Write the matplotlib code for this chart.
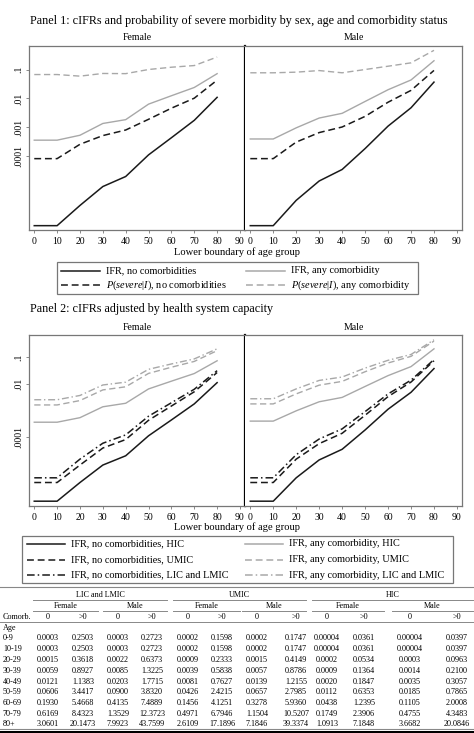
import numpy as np
import matplotlib
matplotlib.use('Agg')
import matplotlib.pyplot as plt

plt.rcParams['font.family'] = ['Liberation Serif', 'DejaVu Serif']
plt.rcParams['mathtext.fontset'] = 'custom'
plt.rcParams['mathtext.it'] = 'Liberation Serif:italic'
plt.rcParams['mathtext.rm'] = 'Liberation Serif'

W, H = 474, 733

ages = [0, 10, 20, 30, 40, 50, 60, 70, 80]
age_labels = ['0-9', '10-19', '20-29', '30-39', '40-49', '50-59', '60-69', '70-79', '80+']

# IFR table (percent)
lic_f0 = [0.0003, 0.0003, 0.0015, 0.0059, 0.0121, 0.0606, 0.1930, 0.6169, 3.0601]
lic_f1 = [0.2503, 0.2503, 0.3618, 0.8927, 1.1383, 3.4417, 5.4668, 8.4323, 20.1473]
lic_m0 = [0.0003, 0.0003, 0.0022, 0.0085, 0.0203, 0.0900, 0.4135, 1.3529, 7.9923]
lic_m1 = [0.2723, 0.2723, 0.6373, 1.3225, 1.7715, 3.8320, 7.4889, 12.3723, 43.7599]
umic_f0 = [0.0002, 0.0002, 0.0009, 0.0039, 0.0081, 0.0426, 0.1456, 0.4971, 2.6109]
umic_f1 = [0.1598, 0.1598, 0.2333, 0.5838, 0.7627, 2.4215, 4.1251, 6.7946, 17.1896]
umic_m0 = [0.0002, 0.0002, 0.0015, 0.0057, 0.0139, 0.0657, 0.3278, 1.1504, 7.1846]
umic_m1 = [0.1747, 0.1747, 0.4149, 0.8786, 1.2155, 2.7985, 5.9360, 10.5207, 39.3374]
hic_f0 = [0.00004, 0.00004, 0.0002, 0.0009, 0.0020, 0.0112, 0.0438, 0.1749, 1.0913]
hic_f1 = [0.0361, 0.0361, 0.0534, 0.1364, 0.1847, 0.6353, 1.2395, 2.3906, 7.1848]
hic_m0 = [0.00004, 0.00004, 0.0003, 0.0014, 0.0035, 0.0185, 0.1105, 0.4755, 3.6682]
hic_m1 = [0.0397, 0.0397, 0.0963, 0.2100, 0.3057, 0.7865, 2.0008, 4.3483, 20.0846]

sev_f0 = [8.3e-5, 8.3e-5, 2.6e-4, 5.2e-4, 8.1e-4, 1.9e-3, 4.6e-3, 1.02e-2, 4.3e-2]
sev_f1 = [0.067, 0.067, 0.059, 0.073, 0.072, 0.10, 0.12, 0.137, 0.27]
sev_m0 = [8.3e-5, 8.3e-5, 3.1e-4, 6.6e-4, 1.03e-3, 2.4e-3, 7.4e-3, 1.9e-2, 0.093]
sev_m1 = [0.077, 0.077, 0.081, 0.092, 0.077, 0.10, 0.13, 0.17, 0.46]

BLACK = '#1a1a1a'
GREY = '#a8a8a8'
FRAME = '#777777'
DASH = (4.5, 2.5)
DASHDOT = (5, 2, 1, 2)

fig = plt.figure(figsize=(W / 100, H / 100), dpi=100)
bg = fig.add_axes([0, 0, 1, 1])
bg.set_xlim(0, W)
bg.set_ylim(H, 0)
bg.axis('off')


def rect(l, t, r, b):
    return [l / W, 1 - b / H, (r - l) / W, (b - t) / H]


def pct(v):
    return np.array(v) / 100.0


def style_axes(ax, side, yticks, ylabels, ylim):
    ax.set_yscale('log')
    ax.set_xlim(-2.3, 92.2)
    ax.set_ylim(*ylim)
    ax.set_xticks(range(0, 91, 10))
    ax.minorticks_off()
    ax.tick_params(axis='x', labelsize=7, length=2.5, width=0.6, color=FRAME, pad=2.5)
    ax.tick_params(axis='y', labelsize=7, length=2.5, width=0.6, color=FRAME, pad=1.5)
    for s in ax.spines.values():
        s.set_color(FRAME)
        s.set_linewidth(0.9)
    if side == 'left':
        ax.set_yticks(yticks)
        ax.set_yticklabels(ylabels, rotation=90, va='center')
        ax.spines['right'].set_color('black')
        ax.spines['right'].set_linewidth(1.6)
    else:
        ax.set_yticks([])
        ax.spines['left'].set_visible(False)


def ylims(series, pad):
    lo = min(np.log10(np.min(s)) for s in series)
    hi = max(np.log10(np.max(s)) for s in series)
    return 10 ** (lo - pad), 10 ** (hi + pad)


# ---------------- Panel 1 ----------------
p1_all = [pct(hic_f0), pct(hic_f1), pct(hic_m0), pct(hic_m1), sev_f0, sev_f1, sev_m0, sev_m1]
lim1 = ylims(p1_all, 0.15)
p1 = {'Female': (pct(hic_f0), pct(hic_f1), sev_f0, sev_f1),
      'Male': (pct(hic_m0), pct(hic_m1), sev_m0, sev_m1)}
boxes1 = {'Female': (29, 46, 245, 230), 'Male': (245, 46, 462, 230)}
for sex, (i0, i1, s0, s1) in p1.items():
    ax = fig.add_axes(rect(*boxes1[sex]))
    ax.plot(ages, i0, color=BLACK, lw=1.1)
    ax.plot(ages, i1, color=GREY, lw=1.0)
    ax.plot(ages, s0, color=BLACK, lw=1.1, dashes=DASH)
    ax.plot(ages, s1, color=GREY, lw=1.0, dashes=DASH)
    style_axes(ax, 'left' if sex == 'Female' else 'right',
               [1e-4, 1e-3, 1e-2, 1e-1], ['.0001', '.001', '.01', '.1'], lim1)
    l, t, r, b = boxes1[sex]
    bg.text((l + r) / 2, t - 8, sex, ha='center', va='center', fontsize=7)

bg.text(30, 21, 'Panel 1: cIFRs and probability of severe morbidity by sex, age and comorbidity status',
        ha='left', va='center', fontsize=8.7)
bg.text(237, 252, 'Lower boundary of age group', ha='center', va='center', fontsize=7.6)

# legend 1
bg.add_patch(plt.Rectangle((57, 262), 361, 32, fill=False, ec=FRAME, lw=0.9))
leg1 = [(61, 270.5, BLACK, None, 'IFR, no comorbidities'),
        (246, 270.5, GREY, None, 'IFR, any comorbidity'),
        (61, 285, BLACK, DASH, r'$P(severe|I)$, no comorbidities'),
        (246, 285, GREY, DASH, r'$P(severe|I)$, any comorbidity')]
for x0, y0, c, d, lab in leg1:
    ln, = bg.plot([x0, x0 + 39], [y0, y0], color=c, lw=1.1)
    if d:
        ln.set_dashes(d)
    bg.text(x0 + 45, y0, lab, ha='left', va='center', fontsize=7.4)

# ---------------- Panel 2 ----------------
p2_all = [pct(v) for v in [lic_f0, lic_f1, lic_m0, lic_m1, umic_f0, umic_f1,
                             umic_m0, umic_m1, hic_f0, hic_f1, hic_m0, hic_m1]]
lim2 = ylims(p2_all, 0.18)
p2 = {'Female': (hic_f0, umic_f0, lic_f0, hic_f1, umic_f1, lic_f1),
      'Male': (hic_m0, umic_m0, lic_m0, hic_m1, umic_m1, lic_m1)}
boxes2 = {'Female': (29, 335, 245, 506), 'Male': (245, 335, 462, 506)}
for sex, (h0, u0, l0, h1, u1, l1) in p2.items():
    ax = fig.add_axes(rect(*boxes2[sex]))
    ax.plot(ages, pct(h1), color=GREY, lw=1.0)
    ax.plot(ages, pct(u1), color=GREY, lw=1.0, dashes=DASH)
    ax.plot(ages, pct(l1), color=GREY, lw=1.0, dashes=DASHDOT)
    ax.plot(ages, pct(h0), color=BLACK, lw=1.1)
    ax.plot(ages, pct(u0), color=BLACK, lw=1.1, dashes=DASH)
    ax.plot(ages, pct(l0), color=BLACK, lw=1.1, dashes=DASHDOT)
    style_axes(ax, 'left' if sex == 'Female' else 'right',
               [1e-4, 1e-2, 1e-1], ['.0001', '.01', '.1'], lim2)
    l, t, r, b = boxes2[sex]
    bg.text((l + r) / 2, t - 7, sex, ha='center', va='center', fontsize=7)

bg.text(30, 309, 'Panel 2: cIFRs adjusted by health system capacity',
        ha='left', va='center', fontsize=8.7)
bg.text(237, 527, 'Lower boundary of age group', ha='center', va='center', fontsize=7.6)

# legend 2
bg.add_patch(plt.Rectangle((22, 536), 431, 47, fill=False, ec=FRAME, lw=0.9))
leg2 = [(27, 544, BLACK, None, 'IFR, no comorbidities, HIC'),
        (245, 544, GREY, None, 'IFR, any comorbidity, HIC'),
        (27, 559.5, BLACK, DASH, 'IFR, no comorbidities, UMIC'),
        (245, 559.5, GREY, DASH, 'IFR, any comorbidity, UMIC'),
        (27, 575, BLACK, DASHDOT, 'IFR, no comorbidities, LIC and LMIC'),
        (245, 575, GREY, DASHDOT, 'IFR, any comorbidity, LIC and LMIC')]
for x0, y0, c, d, lab in leg2:
    ln, = bg.plot([x0, x0 + 38], [y0, y0], color=c, lw=1.1)
    if d:
        ln.set_dashes(d)
    bg.text(x0 + 44, y0, lab, ha='left', va='center', fontsize=7.4)

# ---------------- Table ----------------
TF = 5.9
groups = ['LIC and LMIC', 'UMIC', 'HIC']
group_spans = [(33, 167), (173, 306), (312, 473)]
sex_spans = [(33, 98), (103, 167), (173, 240), (242, 306), (312, 384), (392, 473)]
col_x = [48, 83, 118, 152, 188, 222, 257, 296, 327, 364, 410, 457]
cols = [lic_f0, lic_f1, lic_m0, lic_m1, umic_f0, umic_f1, umic_m0, umic_m1,
        hic_f0, hic_f1, hic_m0, hic_m1]

bg.plot([0, W], [587, 587], color='#888888', lw=0.8)
for g, (a, b) in zip(groups, group_spans):
    bg.text((a + b) / 2, 595, g, ha='center', va='center', fontsize=TF)
    bg.plot([a, b], [600, 600], color='#888888', lw=0.7)
for k, (a, b) in enumerate(sex_spans):
    bg.text((a + b) / 2, 606, 'Female' if k % 2 == 0 else 'Male', ha='center', va='center', fontsize=TF)
    bg.plot([a, b], [611, 611], color='#888888', lw=0.7)
bg.text(3, 617, 'Comorb.', ha='left', va='center', fontsize=TF)
for k, x in enumerate(col_x):
    bg.text(x, 617, '0' if k % 2 == 0 else '>0', ha='center', va='center', fontsize=TF)
bg.plot([0, W], [621.5, 621.5], color='#888888', lw=0.7)
bg.text(3, 628, 'Age', ha='left', va='center', fontsize=TF)
for i, lab in enumerate(age_labels):
    y = 638.5 + i * 10.75
    bg.text(3, y, lab, ha='left', va='center', fontsize=TF)
    for x, col in zip(col_x, cols):
        v = col[i]
        s = '%.5f' % v if v < 0.0001 else '%.4f' % v
        bg.text(x, y, s, ha='center', va='center', fontsize=TF)
bg.plot([0, W], [729, 729], color='#888888', lw=0.8)
bg.add_patch(plt.Rectangle((0, 731), W, 2, color='black', lw=0))

fig.savefig('out.png', dpi=100)
